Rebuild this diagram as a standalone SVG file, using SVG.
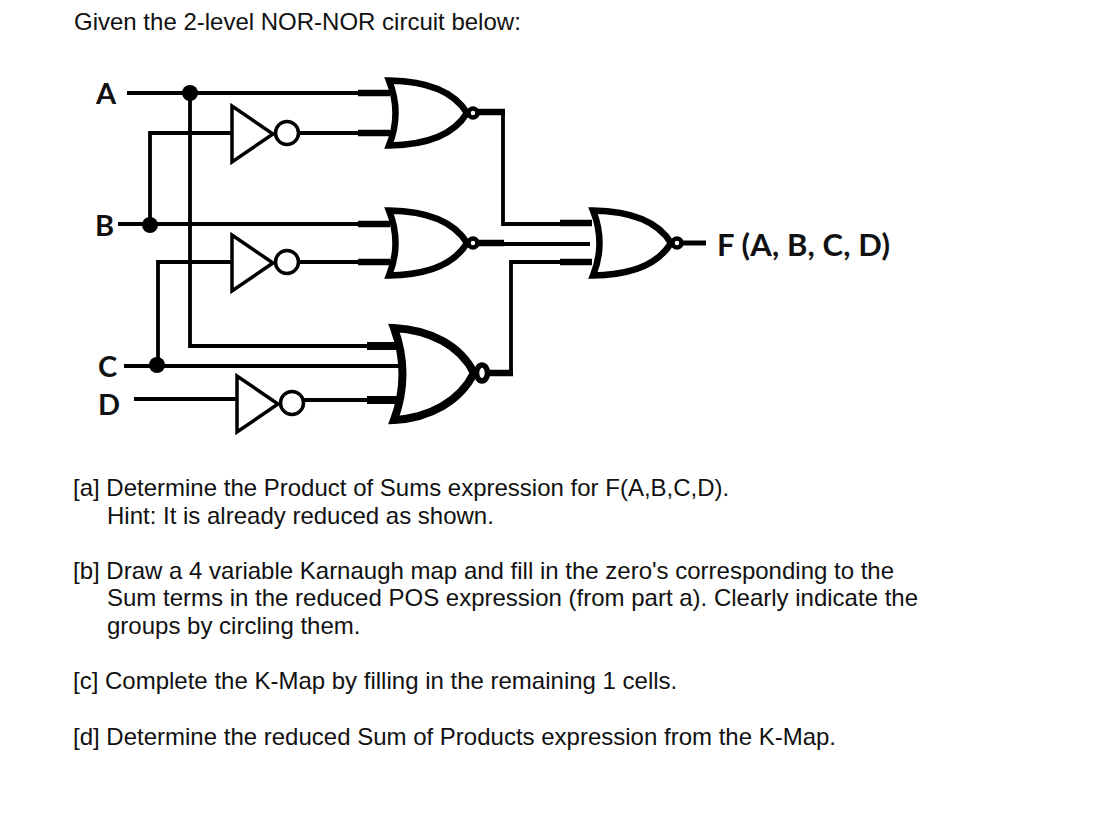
<svg xmlns="http://www.w3.org/2000/svg" width="1102" height="814" viewBox="0 0 1102 814">
<style>
.t{font-family:"Liberation Sans",Arial,sans-serif;font-size:24px;fill:#111}
.l{font-family:Lato,"Open Sans",sans-serif;font-weight:700;font-size:29px;fill:#111}
.w{fill:none;stroke:#000;stroke-width:3.8;stroke-linejoin:miter}
.k{fill:none;stroke:#000;stroke-width:6.5}
.i{fill:#fff;stroke:#000;stroke-width:3.5}
.g{fill:#fff;stroke:#000;stroke-width:6.5;stroke-miterlimit:10}
</style>
<defs>
<g id="nor">
<path class="g" d="M-84,-32.5 Q-71,0 -84,32.5 C-50,32 -20,23 -6,0 C-20,-23 -50,-32 -84,-32.5 Z"/>
<circle cx="0" cy="0" r="4.5" fill="#fff" stroke="#000" stroke-width="4.5"/>
</g>
<g id="inv">
<path class="i" d="M0,-28 L0,28 L41,0 Z"/>
<circle class="i" cx="55" cy="-1" r="11.5"/>
</g>
</defs>
<g id="connectors">
<path class="w" d="M127,93H360"/>
<path class="w" d="M190,93V346H367"/>
<path class="w" d="M150,224V133H232"/>
<path class="w" d="M118,224H360"/>
<path class="w" d="M158,365V262H232"/>
<path class="w" d="M124,366H404"/>
<path class="w" d="M134,399H237"/>
<path class="w" d="M298,133H360M298,262H360M303,400H367"/>
<path class="w" d="M503,112V224H560"/>
<path class="w" d="M503,244H590"/>
<path class="w" d="M511,373V262H560"/>
<path class="k" d="M358,93H390M358,133H390M358,224H390M358,262H390M560,223H592M560,262H592"/>
<path class="k" style="stroke-width:8" d="M367,346H402M367,400H402"/>
<path class="k" d="M478,112H505M478,243H504M488,373H513"/>
<path class="k" style="stroke-width:5" d="M682,243H706"/>
<circle cx="190" cy="93" r="8"/>
<circle cx="150" cy="225" r="8"/>
<circle cx="157" cy="365" r="8"/>
</g>
<g id="gate1"><use href="#nor" x="473" y="113"/></g>
<g id="gate2"><use href="#nor" x="473" y="243"/></g>
<g id="gate4"><use href="#nor" x="677" y="243"/></g>
<g id="gate3">
<path fill="#fff" stroke="#000" stroke-width="8" stroke-miterlimit="10" d="M394,328 Q411,374 394,420 C430,418 460,401 474,373 C460,345 430,330 394,328 Z"/>
<ellipse cx="482" cy="373" rx="5.5" ry="8" fill="#fff" stroke="#000" stroke-width="5.5"/>
</g>
<g id="inv1"><use href="#inv" x="232" y="134"/></g>
<g id="inv2"><use href="#inv" x="232" y="263"/></g>
<g id="inv3"><use href="#inv" x="237" y="404"/></g>
<g id="labels">
<text class="l" x="96" y="104">A</text>
<text class="l" x="95" y="236">B</text>
<text class="l" x="98" y="377">C</text>
<text class="l" x="98" y="415">D</text>
<text class="l" x="717" y="256" style="font-size:31px" textLength="173" lengthAdjust="spacing">F (A, B, C, D)</text>
</g>
<g id="text">
<text class="t" x="74" y="30">Given the 2-level NOR-NOR circuit below:</text>
<text class="t" x="73" y="496">[a] Determine the Product of Sums expression for F(A,B,C,D).</text>
<text class="t" x="107" y="524">Hint: It is already reduced as shown.</text>
<text class="t" x="73" y="579">[b] Draw a 4 variable Karnaugh map and fill in the zero's corresponding to the</text>
<text class="t" x="107" y="606">Sum terms in the reduced POS expression (from part a). Clearly indicate the</text>
<text class="t" x="107" y="634">groups by circling them.</text>
<text class="t" x="73" y="689">[c] Complete the K-Map by filling in the remaining 1 cells.</text>
<text class="t" x="73" y="745">[d] Determine the reduced Sum of Products expression from the K-Map.</text>
</g>
</svg>
